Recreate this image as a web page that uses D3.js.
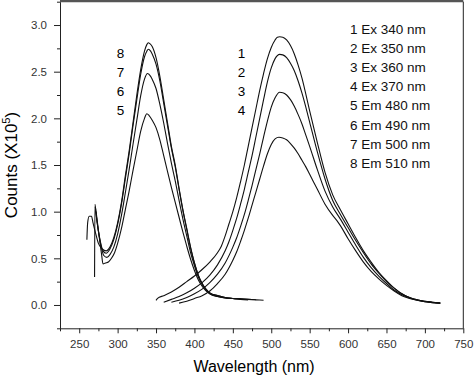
<!DOCTYPE html>
<html>
<meta charset="utf-8">
<style>
  body { margin: 0; background: #fff; }
  text { font-family: "Liberation Sans", Arial, sans-serif; }
</style>
<body>
<script src="https://d3js.org/d3.v7.min.js"></script>
<script>
// emission spectra (right group), [wavelength nm, counts x1e5]
const curve1 = [[350,0.05],[352,0.07],[360,0.1],[370,0.14],[380,0.19],[390,0.25],[400,0.31],[410,0.38],[420,0.46],[430,0.56],[435,0.63],[440,0.74],[445,0.87],[450,1.0],[455,1.15],[460,1.32],[465,1.5],[470,1.7],[475,1.9],[480,2.1],[485,2.3],[490,2.48],[495,2.64],[500,2.76],[505,2.84],[508,2.87],[511,2.875],[515,2.87],[520,2.84],[525,2.78],[530,2.69],[535,2.57],[540,2.43],[545,2.26],[550,2.08],[560,1.74],[570,1.42],[580,1.18],[590,1.02],[600,0.87],[610,0.72],[620,0.58],[630,0.46],[640,0.35],[650,0.26],[660,0.18],[670,0.12],[680,0.08],[690,0.055],[700,0.04],[710,0.03],[720,0.02]];
const curve2 = [[360,0.03],[370,0.06],[380,0.09],[390,0.13],[400,0.18],[410,0.24],[420,0.32],[430,0.43],[440,0.58],[445,0.68],[450,0.8],[455,0.93],[460,1.08],[465,1.24],[470,1.42],[475,1.6],[480,1.8],[485,2.0],[490,2.2],[495,2.39],[500,2.54],[505,2.64],[511,2.686],[515,2.68],[520,2.65],[525,2.59],[530,2.51],[535,2.4],[540,2.27],[545,2.12],[550,1.96],[560,1.64],[570,1.35],[580,1.12],[590,0.97],[600,0.83],[610,0.69],[620,0.56],[630,0.44],[640,0.34],[650,0.25],[660,0.18],[670,0.12],[680,0.08],[690,0.055],[700,0.04],[710,0.03],[720,0.02]];
const curve3 = [[370,0.03],[380,0.05],[390,0.08],[400,0.12],[410,0.17],[420,0.24],[430,0.33],[440,0.45],[450,0.62],[455,0.72],[460,0.84],[465,0.97],[470,1.12],[475,1.28],[480,1.45],[485,1.62],[490,1.8],[495,1.97],[500,2.12],[505,2.22],[511,2.279],[515,2.275],[520,2.25],[525,2.2],[530,2.13],[535,2.04],[540,1.94],[545,1.82],[550,1.7],[560,1.45],[570,1.22],[580,1.05],[590,0.92],[600,0.78],[610,0.64],[620,0.51],[630,0.4],[640,0.31],[650,0.23],[660,0.16],[670,0.11],[680,0.075],[690,0.05],[700,0.035],[710,0.025],[720,0.02]];
const curve4 = [[380,0.02],[390,0.04],[400,0.07],[410,0.1],[420,0.15],[430,0.23],[440,0.33],[450,0.48],[455,0.57],[460,0.68],[465,0.8],[470,0.93],[475,1.07],[480,1.21],[485,1.35],[490,1.49],[495,1.62],[500,1.72],[505,1.78],[510,1.797],[515,1.79],[520,1.77],[525,1.73],[530,1.68],[535,1.62],[540,1.55],[545,1.48],[550,1.4],[560,1.24],[570,1.08],[580,0.96],[585,0.91],[590,0.85],[600,0.71],[610,0.58],[620,0.46],[630,0.36],[640,0.28],[650,0.21],[660,0.15],[670,0.1],[680,0.07],[690,0.05],[700,0.035],[710,0.025],[720,0.02]];

// excitation spectra (left group)
const curve5 = [[272,1.0],[275,0.8],[279,0.55],[281,0.44],[284,0.45],[288,0.46],[292,0.5],[296,0.56],[300,0.66],[305,0.82],[310,1.02],[315,1.22],[320,1.44],[325,1.65],[330,1.86],[335,2.0],[338,2.05],[341,2.03],[345,1.98],[350,1.9],[355,1.77],[360,1.6],[365,1.43],[370,1.26],[375,1.1],[380,0.94],[385,0.78],[390,0.63],[395,0.49],[400,0.37],[405,0.27],[410,0.2],[415,0.15],[420,0.12],[430,0.09],[440,0.075],[450,0.07],[460,0.065]];
const curve6 = [[271,1.05],[274,0.85],[278,0.65],[282,0.53],[286,0.51],[290,0.54],[295,0.62],[300,0.76],[305,0.96],[310,1.2],[315,1.45],[320,1.72],[325,1.98],[330,2.24],[335,2.42],[339,2.48],[343,2.45],[345,2.42],[350,2.32],[355,2.15],[360,1.95],[365,1.73],[370,1.52],[375,1.33],[380,1.12],[385,0.92],[390,0.74],[395,0.56],[400,0.42],[405,0.3],[410,0.22],[415,0.16],[420,0.12],[430,0.09],[440,0.075],[450,0.07],[460,0.06],[470,0.055]];
const curve7 = [[270,0.3],[270.5,1.08],[273,0.9],[277,0.7],[281,0.58],[285,0.555],[290,0.6],[295,0.7],[300,0.86],[305,1.08],[310,1.35],[315,1.62],[320,1.92],[325,2.2],[330,2.47],[335,2.66],[338,2.72],[340,2.74],[343,2.72],[345,2.69],[350,2.58],[355,2.4],[360,2.16],[365,1.92],[370,1.68],[375,1.48],[380,1.24],[385,1.01],[390,0.81],[395,0.61],[400,0.45],[405,0.32],[410,0.23],[415,0.17],[420,0.13],[430,0.1],[440,0.08],[450,0.07],[460,0.065],[470,0.06],[480,0.055]];
const curve8 = [[260,0.7],[261,0.88],[263,0.95],[266,0.95],[268,0.88],[271,0.78],[275,0.66],[280,0.6],[285,0.58],[290,0.62],[295,0.72],[300,0.88],[305,1.1],[310,1.38],[315,1.65],[320,1.95],[325,2.25],[330,2.52],[335,2.72],[338,2.79],[340,2.81],[342,2.8],[345,2.77],[350,2.65],[355,2.45],[360,2.2],[365,1.95],[370,1.7],[375,1.5],[380,1.25],[385,1.02],[390,0.82],[395,0.62],[400,0.45],[405,0.32],[410,0.23],[415,0.17],[420,0.13],[430,0.1],[440,0.08],[450,0.07],[460,0.065],[470,0.06],[480,0.055],[490,0.05]];

const curves = [curve1, curve2, curve3, curve4, curve5, curve6, curve7, curve8];
const legendLabels = ["1 Ex 340 nm", "2 Ex 350 nm", "3 Ex 360 nm", "4 Ex 370 nm",
                      "5 Em 480 nm", "6 Em 490 nm", "7 Em 500 nm", "8 Em 510 nm"];
const leftTags = ["8", "7", "6", "5"];
const rightTags = ["1", "2", "3", "4"];
const xTicks = [250, 300, 350, 400, 450, 500, 550, 600, 650, 700, 750];
const xMinor = [225, 275, 325, 375, 425, 475, 525, 575, 625, 675, 725];
const yTicks = [0, 0.5, 1.0, 1.5, 2.0, 2.5, 3.0];
const yMinor = [-0.25, 0.25, 0.75, 1.25, 1.75, 2.25, 2.75, 3.25];

const width = 474, height = 377;
const margin = {left: 60, right: 463.3, top: 1.7, bottom: 328.3};

const svg = d3.select("body").append("svg")
    .attr("width", width)
    .attr("height", height);

const x = d3.scaleLinear().domain([225, 750]).range([margin.left, margin.right]);
const y = d3.scaleLinear().domain([-0.25, 3.25]).range([margin.bottom, margin.top]);

// frame
svg.append("line")
    .attr("x1", margin.left).attr("x2", margin.right).attr("y1", 1).attr("y2", 1)
    .attr("stroke", "#555").attr("stroke-width", 2.5);
svg.append("line")
    .attr("x1", margin.right).attr("x2", margin.right)
    .attr("y1", margin.top).attr("y2", margin.bottom)
    .attr("stroke", "#222").attr("stroke-width", 1);

// x axis
const gx = svg.append("g").attr("transform", `translate(0,${margin.bottom})`);
gx.call(d3.axisBottom(x).tickValues(xTicks).tickSize(5).tickSizeOuter(0).tickPadding(7));
gx.append("g").call(d3.axisBottom(x).tickValues(xMinor).tickSize(3).tickFormat(""))
    .select(".domain").remove();
gx.selectAll("text").attr("font-size", 11.5).attr("fill", "#333")
    .attr("font-family", "Liberation Sans, Arial, sans-serif");

// y axis
const gy = svg.append("g").attr("transform", `translate(${margin.left},0)`);
gy.call(d3.axisLeft(y).tickValues(yTicks).tickSize(6).tickSizeOuter(0).tickPadding(7)
    .tickFormat(d3.format(".1f")));
gy.append("g").call(d3.axisLeft(y).tickValues(yMinor).tickSize(3).tickFormat(""))
    .select(".domain").remove();
gy.selectAll("text").attr("font-size", 11.5).attr("fill", "#333")
    .attr("font-family", "Liberation Sans, Arial, sans-serif");
svg.selectAll(".domain, .tick line").attr("stroke", "#222");

// axis titles
svg.append("text")
    .attr("x", 254).attr("y", 372)
    .attr("text-anchor", "middle")
    .attr("font-size", 16)
    .text("Wavelength (nm)");

const yt = svg.append("text")
    .attr("transform", "translate(17,165) rotate(-90)")
    .attr("text-anchor", "middle")
    .attr("font-size", 17);
yt.append("tspan").text("Counts (X10");
yt.append("tspan").attr("font-size", 11).attr("dy", -7).text("5");
yt.append("tspan").attr("dy", 7).text(")");

// spectra
const line = d3.line()
    .x(d => x(d[0]))
    .y(d => y(d[1]))
    .curve(d3.curveMonotoneX);

svg.append("g")
    .selectAll("path")
    .data(curves)
    .join("path")
      .attr("d", line)
      .attr("fill", "none")
      .attr("stroke", "#111")
      .attr("stroke-width", 1.1);

// curve numbers
svg.append("g").selectAll("text")
    .data(leftTags)
    .join("text")
      .attr("x", 120.5).attr("y", (d, i) => 57.5 + i * 19.2)
      .attr("text-anchor", "middle")
      .attr("font-size", 13.5)
      .text(d => d);
svg.append("g").selectAll("text")
    .data(rightTags)
    .join("text")
      .attr("x", 241.5).attr("y", (d, i) => 57.5 + i * 19.2)
      .attr("text-anchor", "middle")
      .attr("font-size", 13.5)
      .text(d => d);

// legend
svg.append("g").selectAll("text")
    .data(legendLabels)
    .join("text")
      .attr("x", 350).attr("y", (d, i) => 34 + i * 19.1)
      .attr("font-size", 13.5)
      .attr("fill", "#111")
      .text(d => d);
</script>
</body>
</html>
